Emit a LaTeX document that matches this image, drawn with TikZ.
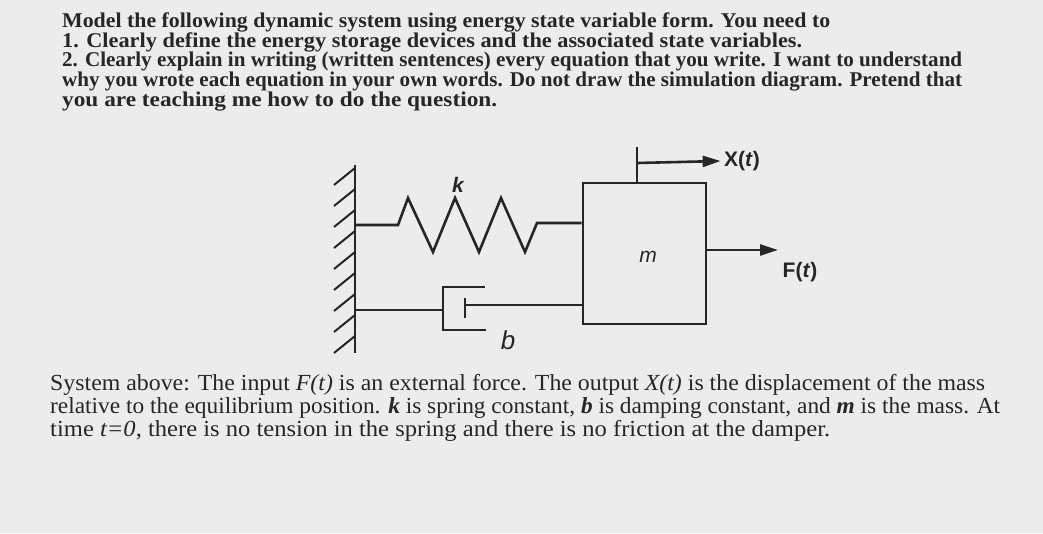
\documentclass[tikz,border=0pt]{standalone}
\usepackage{fontspec}
\setmainfont{Liberation Serif}
\setsansfont{Liberation Sans}
\usepackage{graphicx}
\usetikzlibrary{arrows.meta}
\newcommand\fitw[2]{\resizebox{#1pt}{\height}{#2}}
\begin{document}
\begin{tikzpicture}[x=1pt,y=-1pt,
  ln/.style={line width=2.6pt,draw=black!85},
  arr/.style={ln,-{Triangle[length=18pt,width=11pt]}},
  txt/.style={anchor=west,inner sep=0pt,text=black!85},
  lab/.style={font=\sffamily\bfseries\fontsize{21}{21}\selectfont,text=black!85}]
\fill[gray!15] (0,0) rectangle (1043,533);
\useasboundingbox (0,0) rectangle (1043,533);
% top text
\begin{scope}[every node/.style={txt,font=\bfseries\fontsize{21}{21}\selectfont}]
\node (t1) at (62,22) {\fitw{768}{Model the following dynamic system using energy state variable form. You need to}};
\node (t2) at (62,42) {\fitw{740}{1. Clearly define the energy storage devices and the associated state variables.}};
\node (t3) at (62,62) {\fitw{900}{2. Clearly explain in writing (written sentences) every equation that you write. I want to understand}};
\node (t4) at (62,82) {\fitw{900}{why you wrote each equation in your own words. Do not draw the simulation diagram. Pretend that}};
\node (t5) at (62,102) {\fitw{435}{you are teaching me how to do the question.}};
\end{scope}
% wall
\coordinate (w1) at (355,165); \coordinate (w2) at (355,353);
\draw[ln] (w1) -- (w2);
\foreach \y in {168,189,...,336} \draw[line width=2pt,black!85] (355,\y) -- (334,\y+17);
% mass
\node[draw=black!85,line width=2.6pt,minimum width=123pt,minimum height=141pt,inner sep=0pt] (m) at (644.5,253.5) {};
\node[lab,font=\sffamily\itshape\fontsize{21}{21}\selectfont] (ml) at (648,257) {m};
% spring
\draw[ln,line join=miter] (355,225) -- (398,225) -- (408,198) -- (433,252) -- (455,198) -- (479,252) -- (501,198) -- (525,252) -- (537,223) -- (m.west |- 0,223);
\node[lab,font=\sffamily\bfseries\itshape\fontsize{21}{21}\selectfont] (k) at (458,185) {k};
% damper
\draw[ln] (355,310) -- (443,310);
\draw[ln] (485,287) -- (443,287) -- (443,330) -- (486,330);
\draw[ln] (465,298) -- (465,318);
\draw[ln] (465,305) -- (m.west |- 0,305);
\node[lab,font=\sffamily\itshape\fontsize{26}{26}\selectfont] (b) at (508,340) {b};
% X(t)
\coordinate (xt) at (637,147);
\draw[ln] (xt) -- (m.north -| xt);
\coordinate (xa) at (637,163);
\node[lab] (xl) at (742,161) {X(\textit{t})};
\draw[arr] (xa) -- (xl.west);
% F(t)
\coordinate (fa) at (778,250);
\draw[arr] (m.east |- fa) -- (fa);
\node[lab] (fl) at (800,272) {F(\textit{t})};
% bottom text
\begin{scope}[every node/.style={txt,font=\fontsize{23}{23}\selectfont}]
\node (b1) at (50,385) {\fitw{935}{System above: The input \textit{F(t)} is an external force. The output \textit{X(t)} is the displacement of the mass}};
\node (b2) at (50,408) {\fitw{950}{relative to the equilibrium position. \textit{\textbf{k}} is spring constant, \textit{\textbf{b}} is damping constant, and \textit{\textbf{m}} is the mass. At}};
\node (b3) at (50,431) {\fitw{780}{time \textit{t=0}, there is no tension in the spring and there is no friction at the damper.}};
\end{scope}
\end{tikzpicture}
\end{document}
